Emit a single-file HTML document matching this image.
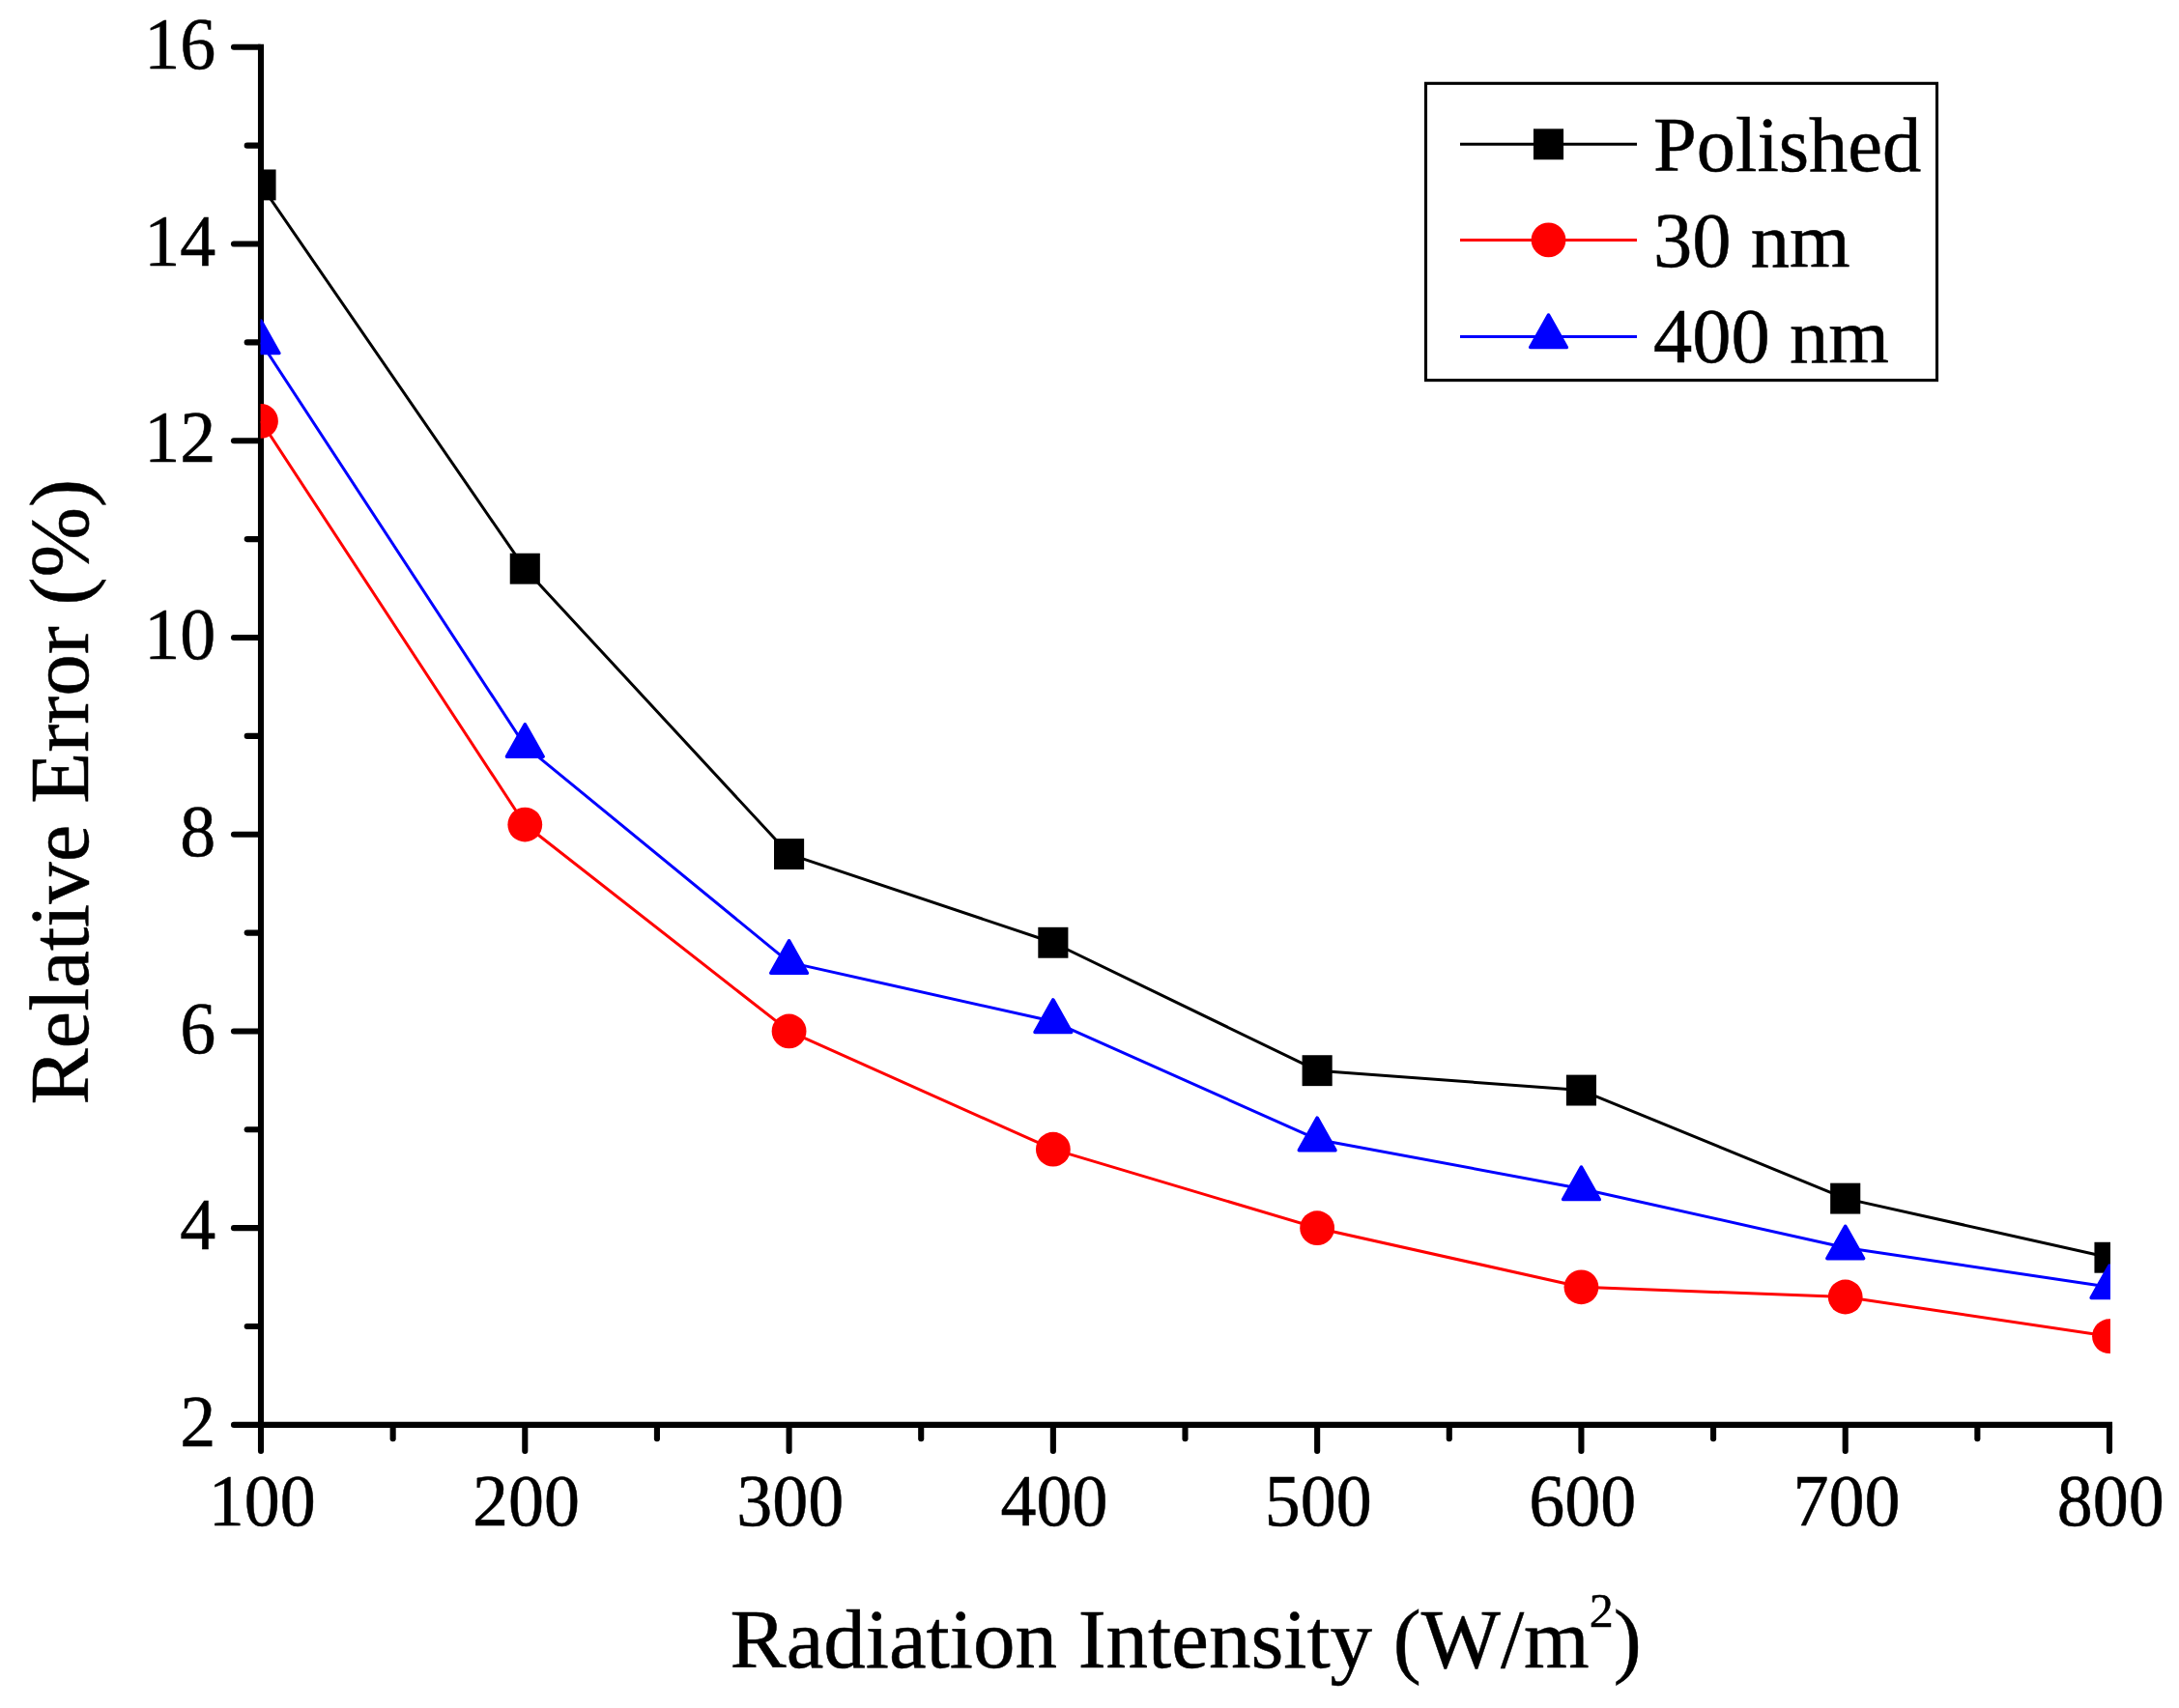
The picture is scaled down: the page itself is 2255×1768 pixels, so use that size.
<!DOCTYPE html>
<html lang="en"><head><meta charset="utf-8"><title>Relative Error vs Radiation Intensity</title>
<style>html,body{margin:0;padding:0;background:#fff;}body{width:2255px;height:1768px;overflow:hidden;}svg{display:block;}text{font-family:"Liberation Serif", "Times New Roman", Times, serif;fill:#000;stroke:#000;stroke-width:0.5px;}</style></head><body>
<svg width="2255" height="1768" viewBox="0 0 2255 1768">
<rect width="2255" height="1768" fill="#fff"/>
<defs><clipPath id="plot"><rect x="269.6" y="48.8" width="1914.4" height="1426.1"/></clipPath></defs>
<g stroke="#000" stroke-width="6.1" stroke-linecap="butt" fill="none">
<path d="M270 45.75L270 1477.95"/>
<path d="M266.95 1474.9L2186.05 1474.9"/>
</g>
<g stroke="#000" stroke-width="6.1" stroke-linecap="round" fill="none">
<path d="M269 1474.9L242 1474.9"/>
<path d="M269 1373.04L255.7 1373.04"/>
<path d="M269 1271.17L242 1271.17"/>
<path d="M269 1169.31L255.7 1169.31"/>
<path d="M269 1067.44L242 1067.44"/>
<path d="M269 965.58L255.7 965.58"/>
<path d="M269 863.71L242 863.71"/>
<path d="M269 761.85L255.7 761.85"/>
<path d="M269 659.99L242 659.99"/>
<path d="M269 558.12L255.7 558.12"/>
<path d="M269 456.26L242 456.26"/>
<path d="M269 354.39L255.7 354.39"/>
<path d="M269 252.53L242 252.53"/>
<path d="M269 150.66L255.7 150.66"/>
<path d="M269 48.8L242 48.8"/>
<path d="M270 1475.9L270 1501.9"/>
<path d="M406.64 1475.9L406.64 1489.2"/>
<path d="M543.29 1475.9L543.29 1501.9"/>
<path d="M679.93 1475.9L679.93 1489.2"/>
<path d="M816.57 1475.9L816.57 1501.9"/>
<path d="M953.21 1475.9L953.21 1489.2"/>
<path d="M1089.86 1475.9L1089.86 1501.9"/>
<path d="M1226.5 1475.9L1226.5 1489.2"/>
<path d="M1363.14 1475.9L1363.14 1501.9"/>
<path d="M1499.79 1475.9L1499.79 1489.2"/>
<path d="M1636.43 1475.9L1636.43 1501.9"/>
<path d="M1773.07 1475.9L1773.07 1489.2"/>
<path d="M1909.71 1475.9L1909.71 1501.9"/>
<path d="M2046.36 1475.9L2046.36 1489.2"/>
<path d="M2183 1475.9L2183 1501.9"/>
</g>
<g clip-path="url(#plot)">
<polyline points="270,191.41 543.29,588.68 816.57,884.09 1089.86,975.76 1363.14,1108.19 1636.43,1128.56 1909.71,1240.61 2183,1301.73" fill="none" stroke="#000" stroke-width="3" stroke-linejoin="round"/>
<rect x="254.45" y="175.46" width="31.1" height="31.9" fill="#000"/>
<rect x="527.74" y="572.73" width="31.1" height="31.9" fill="#000"/>
<rect x="801.02" y="868.14" width="31.1" height="31.9" fill="#000"/>
<rect x="1074.31" y="959.81" width="31.1" height="31.9" fill="#000"/>
<rect x="1347.59" y="1092.24" width="31.1" height="31.9" fill="#000"/>
<rect x="1620.88" y="1112.61" width="31.1" height="31.9" fill="#000"/>
<rect x="1894.16" y="1224.66" width="31.1" height="31.9" fill="#000"/>
<rect x="2167.45" y="1285.78" width="31.1" height="31.9" fill="#000"/>
<polyline points="270,435.88 543.29,853.53 816.57,1067.44 1089.86,1189.68 1363.14,1271.17 1636.43,1332.29 1909.71,1342.48 2183,1383.22" fill="none" stroke="#f00" stroke-width="3" stroke-linejoin="round"/>
<circle cx="270" cy="435.88" r="17.9" fill="#f00"/>
<circle cx="543.29" cy="853.53" r="17.9" fill="#f00"/>
<circle cx="816.57" cy="1067.44" r="17.9" fill="#f00"/>
<circle cx="1089.86" cy="1189.68" r="17.9" fill="#f00"/>
<circle cx="1363.14" cy="1271.17" r="17.9" fill="#f00"/>
<circle cx="1636.43" cy="1332.29" r="17.9" fill="#f00"/>
<circle cx="1909.71" cy="1342.48" r="17.9" fill="#f00"/>
<circle cx="2183" cy="1383.22" r="17.9" fill="#f00"/>
<polyline points="270,354.39 543.29,772.04 816.57,996.14 1089.86,1057.26 1363.14,1179.49 1636.43,1230.43 1909.71,1291.54 2183,1332.29" fill="none" stroke="#00f" stroke-width="3" stroke-linejoin="round"/>
<path d="M270 332.13L288.8 365.53L251.2 365.53Z" fill="#00f" stroke="#00f" stroke-width="3.6" stroke-linejoin="round"/>
<path d="M543.29 749.77L562.09 783.17L524.49 783.17Z" fill="#00f" stroke="#00f" stroke-width="3.6" stroke-linejoin="round"/>
<path d="M816.57 973.87L835.37 1007.27L797.77 1007.27Z" fill="#00f" stroke="#00f" stroke-width="3.6" stroke-linejoin="round"/>
<path d="M1089.86 1034.99L1108.66 1068.39L1071.06 1068.39Z" fill="#00f" stroke="#00f" stroke-width="3.6" stroke-linejoin="round"/>
<path d="M1363.14 1157.23L1381.94 1190.63L1344.34 1190.63Z" fill="#00f" stroke="#00f" stroke-width="3.6" stroke-linejoin="round"/>
<path d="M1636.43 1208.16L1655.23 1241.56L1617.63 1241.56Z" fill="#00f" stroke="#00f" stroke-width="3.6" stroke-linejoin="round"/>
<path d="M1909.71 1269.28L1928.51 1302.68L1890.91 1302.68Z" fill="#00f" stroke="#00f" stroke-width="3.6" stroke-linejoin="round"/>
<path d="M2183 1310.02L2201.8 1343.42L2164.2 1343.42Z" fill="#00f" stroke="#00f" stroke-width="3.6" stroke-linejoin="round"/>
</g>
<g font-size="77">
<text transform="translate(223.2 1497) scale(0.961 1)" text-anchor="end">2</text>
<text transform="translate(223.2 1293.27) scale(0.961 1)" text-anchor="end">4</text>
<text transform="translate(223.2 1089.54) scale(0.961 1)" text-anchor="end">6</text>
<text transform="translate(223.2 885.81) scale(0.961 1)" text-anchor="end">8</text>
<text transform="translate(223.2 682.09) scale(0.961 1)" text-anchor="end">10</text>
<text transform="translate(223.2 478.36) scale(0.961 1)" text-anchor="end">12</text>
<text transform="translate(223.2 274.63) scale(0.961 1)" text-anchor="end">14</text>
<text transform="translate(223.2 70.9) scale(0.961 1)" text-anchor="end">16</text>
<text transform="translate(271.2 1579) scale(0.961 1)" text-anchor="middle">100</text>
<text transform="translate(544.49 1579) scale(0.961 1)" text-anchor="middle">200</text>
<text transform="translate(817.77 1579) scale(0.961 1)" text-anchor="middle">300</text>
<text transform="translate(1091.06 1579) scale(0.961 1)" text-anchor="middle">400</text>
<text transform="translate(1364.34 1579) scale(0.961 1)" text-anchor="middle">500</text>
<text transform="translate(1637.63 1579) scale(0.961 1)" text-anchor="middle">600</text>
<text transform="translate(1910.91 1579) scale(0.961 1)" text-anchor="middle">700</text>
<text transform="translate(2184.2 1579) scale(0.961 1)" text-anchor="middle">800</text>
</g>
<text font-size="87" x="1227.2" y="1725.6" text-anchor="middle">Radiation Intensity (W/m<tspan font-size="50" dy="-41.5">2</tspan><tspan dy="41.5">)</tspan></text>
<text font-size="87" transform="translate(91 819.8) rotate(-90)" text-anchor="middle">Relative Error (%)</text>
<rect x="1475.5" y="86.3" width="529" height="307.3" fill="#fff" stroke="#000" stroke-width="3.1"/>
<path d="M1511 149.3L1694 149.3" stroke="#000" stroke-width="3"/>
<rect x="1586.95" y="133.35" width="31.1" height="31.9" fill="#000"/>
<text font-size="80.5" x="1711" y="177">Polished</text>
<path d="M1511 248.4L1694 248.4" stroke="#f00" stroke-width="3"/>
<circle cx="1602.5" cy="248.4" r="17.9" fill="#f00"/>
<text font-size="80.5" x="1711" y="276.1">30 nm</text>
<path d="M1511 348.4L1694 348.4" stroke="#00f" stroke-width="3"/>
<path d="M1602.5 326.13L1621.3 359.53L1583.7 359.53Z" fill="#00f" stroke="#00f" stroke-width="3.6" stroke-linejoin="round"/>
<text font-size="80.5" x="1711" y="375.3">400 nm</text>
</svg></body></html>
